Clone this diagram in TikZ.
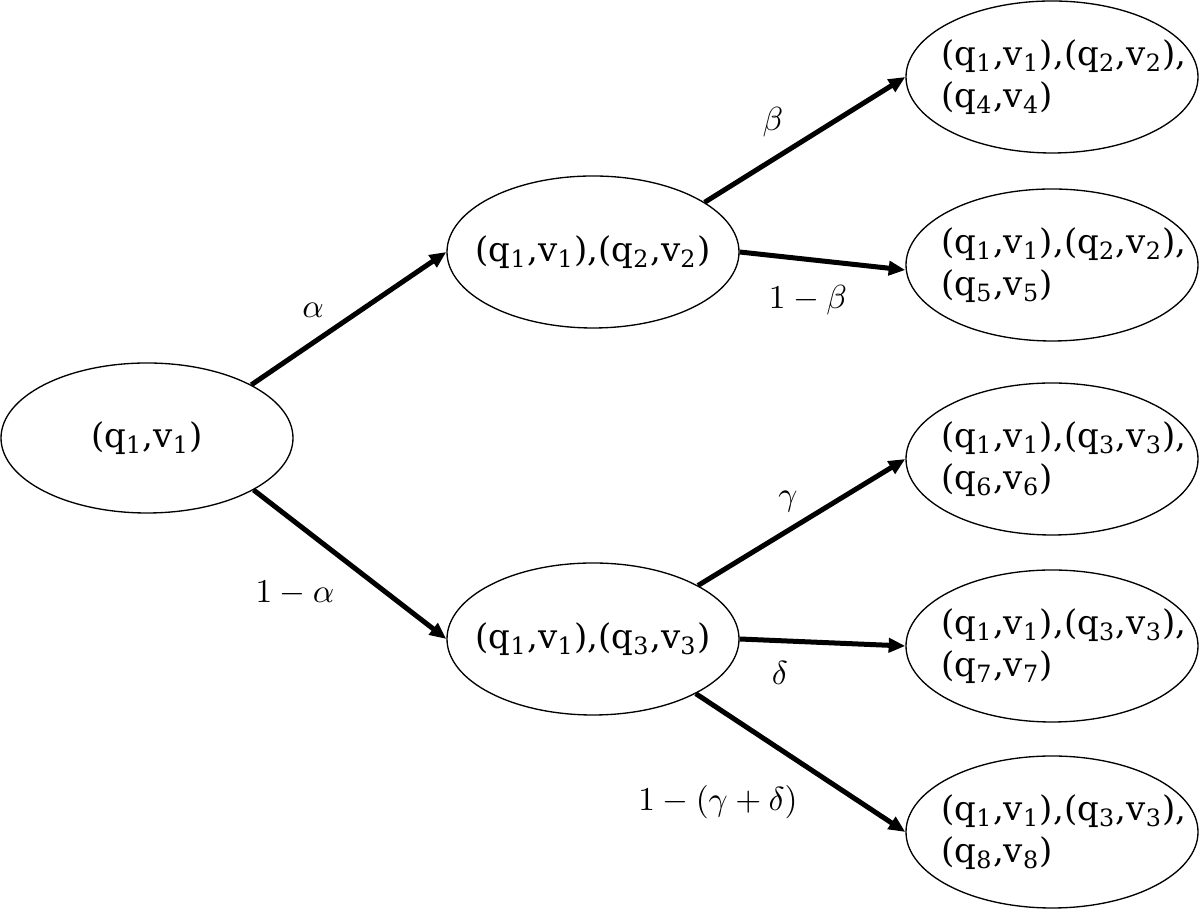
\RequirePackage{fix-cm}
\documentclass[tikz,border=0pt]{standalone}
\usepackage{fontspec}
\newfontfamily\statefont{DejaVu Serif}
\usetikzlibrary{shapes.geometric,arrows.meta}
\newcommand{\qvpair}[1]{(q\textsubscript{#1},v\textsubscript{#1})}
\begin{document}
\begin{tikzpicture}[x=0.3pt,y=-0.3pt,
  state/.style={ellipse,draw,line width=0.4pt,inner sep=0pt,
    minimum width=87.6pt,minimum height=45.6pt},
  txt/.style={inner sep=0pt,align=left,
    font=\statefont\fontsize{10.2}{12.6}\selectfont},
  leaftxt/.style={txt,xshift=3.6pt},
  prob/.style={font=\fontsize{10}{12}\selectfont,inner sep=0pt},
  arr/.style={line width=1.5pt,-{Triangle[length=5pt,width=4.2pt]}}]
\useasboundingbox (0,0) rectangle (1200,909);
\node[state,minimum height=45pt,label={[txt]center:\qvpair{1}}] (root) at (147,438) {};
\node[state,label={[txt]center:\qvpair{1},\qvpair{2}}] (m1) at (593,252) {};
\node[state,label={[txt]center:\qvpair{1},\qvpair{3}}] (m2) at (593,639) {};
\node[state,label={[leaftxt]center:\qvpair{1},\qvpair{2},\\\qvpair{4}}] (r1) at (1052,77) {};
\node[state,label={[leaftxt]center:\qvpair{1},\qvpair{2},\\\qvpair{5}}] (r2) at (1052,265) {};
\node[state,label={[leaftxt]center:\qvpair{1},\qvpair{3},\\\qvpair{6}}] (r3) at (1052,459) {};
\node[state,label={[leaftxt]center:\qvpair{1},\qvpair{3},\\\qvpair{7}}] (r4) at (1052,646) {};
\node[state,label={[leaftxt]center:\qvpair{1},\qvpair{3},\\\qvpair{8}}] (r5) at (1052,832) {};
\draw[arr] (root.27) -- (m1.west);
\draw[arr] (root.-26) -- (m2.west);
\draw[arr] (m1.24) -- (r1.west);
\draw[arr] (m1.east) -- ([yshift=-1.5pt]r2.west);
\draw[arr] (m2.27) -- (r3.west);
\draw[arr] (m2.east) -- (r4.west);
\draw[arr] (m2.-28) -- (r5.west);
\node[prob] (la) at (313,310) {$\alpha$};
\node[prob] (lna) at (295,593) {$1-\alpha$};
\node[prob] (lb) at (773,122) {$\beta$};
\node[prob] (lnb) at (808,300) {$1-\beta$};
\node[prob] (lg) at (788,502) {$\gamma$};
\node[prob] (ld) at (780,673) {$\delta$};
\node[prob] (lgd) at (718,802) {$1-(\gamma+\delta)$};
\end{tikzpicture}
\end{document}
